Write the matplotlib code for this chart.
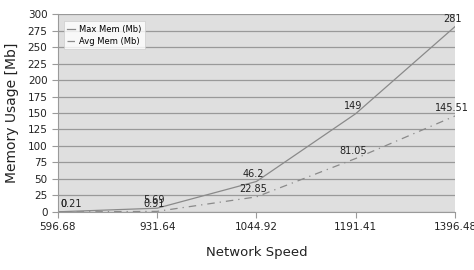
import matplotlib
matplotlib.use("Agg")
import matplotlib.pyplot as plt
import numpy as np

speeds = ["596.68", "931.64", "1044.92", "1191.41", "1396.48"]
max_mem = [0.21, 5.69, 46.2, 149, 281]
avg_mem = [0, 0.91, 22.85, 81.05, 145.51]
max_labels = ["0.21", "5.69", "46.2", "149", "281"]
avg_labels = ["0", "0.91", "22.85", "81.05", "145.51"]

fig = plt.figure(figsize=(4.74, 2.70), dpi=100)
ax = fig.add_axes([0.122, 0.215, 0.838, 0.733])
ax.set_facecolor("#dfdfdf")

x = np.arange(len(speeds))
ax.plot(x, max_mem, color="#8a8a8a", lw=0.9, label="Max Mem (Mb)")
ax.plot(x, avg_mem, color="#8a8a8a", lw=0.9, linestyle=(0, (6, 4, 1, 4)),
        label="Avg Mem (Mb)")

# first point's labels start at the point, the rest sit centred above it
for i, (xi, yv, t) in enumerate(zip(x, max_mem, max_labels)):
    ax.annotate(t, (xi, yv), xytext=(2 if i == 0 else -2, 2),
                textcoords="offset points", ha="left" if i == 0 else "center",
                va="bottom", fontsize=7, color="#222222")
for i, (xi, yv, t) in enumerate(zip(x, avg_mem, avg_labels)):
    ax.annotate(t, (xi, yv), xytext=(2 if i == 0 else -2, 2),
                textcoords="offset points", ha="left" if i == 0 else "center",
                va="bottom", fontsize=7, color="#222222")

ax.set_xlim(0, len(speeds) - 1)
ax.set_ylim(0, 300)
ax.set_yticks(np.arange(0, 301, 25))
ax.set_xticks(x)
ax.set_xticklabels(speeds)
ax.yaxis.grid(True, color="#999999", lw=0.9)
ax.set_axisbelow(True)
for s in ["top", "right"]:
    ax.spines[s].set_visible(False)
for s in ["left", "bottom"]:
    ax.spines[s].set_color("#9a9a9a")
ax.tick_params(axis="both", labelsize=7.5, colors="#9a9a9a", labelcolor="#222222",
               length=4)
ax.set_ylabel("Memory Usage [Mb]", fontsize=10, color="#222222", labelpad=6)
ax.set_xlabel("Network Speed", fontsize=9.5, color="#222222", labelpad=10)

leg = ax.legend(loc="upper left", fontsize=6, frameon=True, fancybox=False,
                handlelength=0.9, handletextpad=0.5, borderpad=0.4,
                labelspacing=0.4, bbox_to_anchor=(0.005, 0.985))
leg.get_frame().set_edgecolor("#cccccc")
leg.get_frame().set_linewidth(0.6)

fig.savefig("out.png", dpi=100)
